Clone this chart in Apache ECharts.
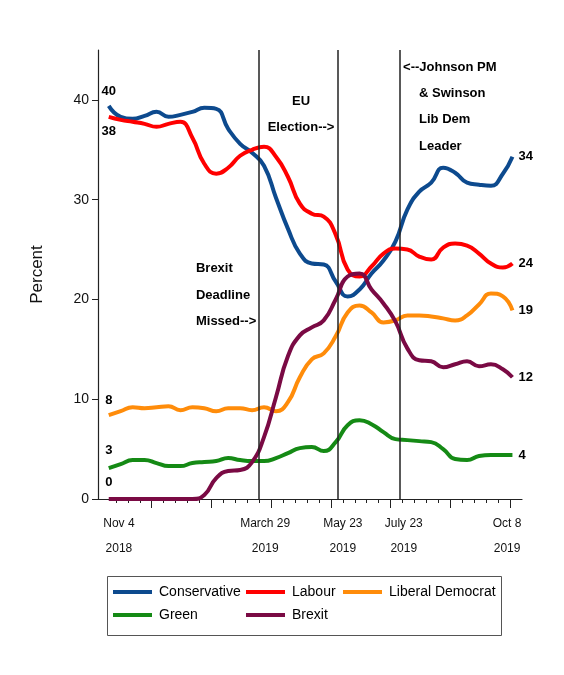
<!DOCTYPE html>
<html>
<head>
<meta charset="utf-8">
<script src="https://cdn.jsdelivr.net/npm/echarts@6/dist/echarts.min.js"></script>
<style>
  html, body { margin: 0; padding: 0; background: #fff; }
  #chart { width: 564px; height: 675px; }
</style>
</head>
<body>
<div id="chart"></div>
<script>
// x positions in axis-tick units (tick 0 = Nov 4 2018, tick 33 = Oct 8 2019)
const xPos = [-0.6, 0.4, 1.4, 2.4, 3.4, 4.4, 5.4, 6.4, 7.4, 8.4, 9.4, 10.4, 11.4, 12.4, 13.4, 14.4, 15.4,
  16.4, 17.4, 18.4, 19.4, 20.4, 21.4, 22.4, 23.4, 24.4, 25.4, 26.4, 27.4, 28.4, 29.4, 30.4, 31.4, 32.4, 33.2];

const conservative = [39.4, 38.3, 38.1, 38.4, 38.8, 38.3, 38.5, 38.8, 39.2, 39.1, 37.1, 35.6, 34.7, 33.4, 30.2, 27.1, 24.6,
  23.6, 23.5, 21.8, 20.3, 21.0, 22.6, 23.9, 25.8, 29.0, 30.8, 31.7, 33.2, 32.7, 31.7, 31.5, 31.4, 32.6, 34.3];
const labour = [38.3, 38.0, 37.8, 37.6, 37.3, 37.6, 37.8, 36.2, 33.6, 32.6, 33.2, 34.4, 35.0, 35.3, 34.3, 32.3, 29.6,
  28.6, 28.3, 26.5, 23.0, 22.3, 23.3, 24.6, 25.1, 25.0, 24.3, 24.0, 25.2, 25.6, 25.4, 24.6, 23.6, 23.2, 23.6];
const libDem = [8.4, 8.8, 9.2, 9.1, 9.2, 9.3, 8.9, 9.2, 9.1, 8.8, 9.1, 9.1, 8.9, 9.2, 8.8, 9.7, 12.2,
  14.0, 14.6, 16.3, 18.7, 19.4, 18.7, 17.7, 17.9, 18.4, 18.4, 18.3, 18.1, 17.9, 18.4, 19.5, 20.6, 20.3, 18.9];
const green = [3.1, 3.5, 3.9, 3.9, 3.6, 3.3, 3.3, 3.6, 3.7, 3.8, 4.1, 3.9, 3.8, 3.8, 4.1, 4.6, 5.1,
  5.2, 4.8, 5.7, 7.4, 7.9, 7.5, 6.7, 6.0, 5.9, 5.8, 5.7, 5.0, 4.0, 3.9, 4.3, 4.4, 4.4, 4.4];
const brexit = [0, 0, 0, 0, 0, 0, 0, 0, 0.4, 2.1, 2.8, 2.9, 3.7, 6.2, 10.2, 14.3, 16.4,
  17.2, 17.9, 20.0, 22.3, 22.6, 21.0, 19.6, 17.8, 15.1, 13.9, 13.8, 13.2, 13.5, 13.8, 13.3, 13.5, 13.0, 12.2];

const partyNames = ["Conservative", "Labour", "Liberal Democrat", "Green", "Brexit"];
const startLabels = ["40", "38", "8", "3", "0"];
const endLabels = ["34", "24", "19", "4", "12"];

// x-axis labels (tick-unit position of each date label)
const dateLabelPos = [0.25, 12.5, 19, 24.1, 32.75];
const dateLabels = ["Nov 4\n2018", "March 29\n2019", "May 23\n2019", "July 23\n2019", "Oct 8\n2019"];
const minorTicks = Array.from({ length: 34 }, (_, i) => i);
const majorTicks = [3, 8, 13, 18, 23, 28, 33];
const yTicks = [0, 10, 20, 30, 40];

// event lines and their notes
const eventLines = [12, 18.6, 23.8];
const notes = [
  { text: "EU\nElection-->", at: [15.5, 38.55], align: "center" },
  { text: "<--Johnson PM", at: [24.04, 43.3], align: "left" },
  { text: "& Swinson\nLib Dem\nLeader", at: [25.38, 38.0], align: "left" },
  { text: "Brexit\nDeadline\nMissed-->", at: [6.7, 20.45], align: "left" },
];

const FONT = "'Liberation Sans', Arial, sans-serif";
const colors = ["#0D4A8E", "#FF0000", "#FF8C0A", "#158A15", "#7A0A44"];
const startLabelSide = [
  { position: "top", distance: 8 },
  { position: "bottom", distance: 8 },
  { position: "top", distance: 8 },
  { position: "top", distance: 11 },
  { position: "top", distance: 10 },
];

const seriesValues = [conservative, labour, libDem, green, brexit];

const chart = echarts.init(document.getElementById("chart"), null, { renderer: "canvas" });

const partySeries = partyNames.map((name, i) => ({
  name: name,
  type: "line",
  xAxisIndex: 0,
  smooth: 0.5,
  showSymbol: false,
  symbol: "none",
  z: 3,
  lineStyle: { color: colors[i], width: 4 },
  itemStyle: { color: colors[i] },
  data: xPos.map((x, k) => [x, seriesValues[i][k]]),
  endLabel: {
    show: true,
    formatter: endLabels[i],
    distance: 6,
    color: "#000",
    fontFamily: FONT,
    fontWeight: "bold",
    fontSize: 13,
  },
  markPoint: {
    symbol: "circle",
    symbolSize: 0,
    silent: true,
    data: [{
      coord: [xPos[0], seriesValues[i][0]],
      label: {
        show: true,
        formatter: startLabels[i],
        position: startLabelSide[i].position,
        distance: startLabelSide[i].distance,
        color: "#000",
        fontFamily: FONT,
        fontWeight: "bold",
        fontSize: 13,
      },
    }],
  },
}));

const noteSeries = {
  name: "notes",
  type: "line",
  xAxisIndex: 0,
  data: [],
  z: 1,
  markLine: {
    silent: true,
    symbol: "none",
    label: { show: false },
    lineStyle: { color: "#222", width: 1.5, type: "solid" },
    data: eventLines.map((x) => ({ xAxis: x })),
  },
  markPoint: {
    symbol: "circle",
    symbolSize: 0,
    silent: true,
    data: notes.map((n) => ({
      coord: n.at,
      label: {
        show: true,
        position: "inside",
        formatter: n.text,
        align: n.align,
        verticalAlign: "middle",
        lineHeight: 26.5,
        color: "#000",
        fontFamily: FONT,
        fontWeight: "bold",
        fontSize: 13,
      },
    })),
  },
};

const legendBase = {
  orient: "vertical",
  top: 584,
  padding: 0,
  itemGap: 7,
  itemWidth: 39,
  itemHeight: 4,
  icon: "rect",
  selectedMode: false,
  textStyle: { fontFamily: FONT, fontSize: 14, color: "#000", lineHeight: 16, padding: [0, 0, 0, 2] },
};

chart.setOption({
  animation: false,
  backgroundColor: "#fff",
  grid: { left: 98, right: 42, top: 50, bottom: 176, containLabel: false },
  legend: [
    Object.assign({}, legendBase, { left: 113, data: ["Conservative", "Green"] }),
    Object.assign({}, legendBase, { left: 246, data: ["Labour", "Brexit"] }),
    Object.assign({}, legendBase, { left: 343, data: ["Liberal Democrat"] }),
  ],
  graphic: [{
    type: "rect",
    left: 105,
    top: 574,
    shape: { width: 394, height: 59 },
    style: { fill: "none", stroke: "#555", lineWidth: 1 },
  }],
  xAxis: [
    {
      type: "value",
      min: -1.5,
      max: 34,
      axisLine: { show: true, onZero: false, lineStyle: { color: "#222", width: 1.2 } },
      axisTick: { show: true, customValues: minorTicks, length: 4, lineStyle: { color: "#222" } },
      axisLabel: {
        customValues: dateLabelPos,
        formatter: (v) => {
          const k = dateLabelPos.indexOf(v);
          return k >= 0 ? dateLabels[k] : "";
        },
        margin: 12,
        lineHeight: 25,
        color: "#111",
        fontFamily: FONT,
        fontSize: 12,
      },
      splitLine: { show: false },
    },
    {
      type: "value",
      min: -1.5,
      max: 34,
      position: "bottom",
      axisLine: { show: false, onZero: false },
      axisTick: { show: true, customValues: majorTicks, length: 9, lineStyle: { color: "#222" } },
      axisLabel: { show: false },
      splitLine: { show: false },
    },
  ],
  yAxis: {
    type: "value",
    min: 0,
    max: 45,
    name: "Percent",
    nameLocation: "middle",
    nameGap: 52,
    nameTextStyle: { fontFamily: FONT, fontSize: 17, color: "#111" },
    axisLine: { show: true, onZero: false, lineStyle: { color: "#222", width: 1.2 } },
    axisTick: { show: true, customValues: yTicks, length: 6, lineStyle: { color: "#222" } },
    axisLabel: { customValues: yTicks, margin: 9, color: "#111", fontFamily: FONT, fontSize: 14 },
    splitLine: { show: false },
  },
  series: [noteSeries].concat(partySeries),
});
</script>
</body>
</html>
